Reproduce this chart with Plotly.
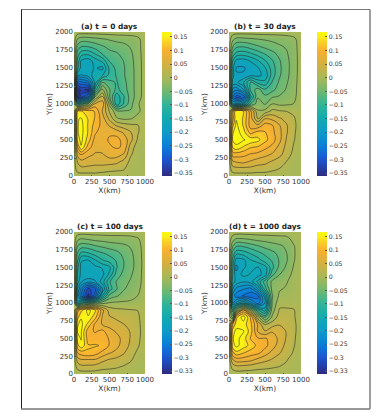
import numpy as np
import plotly.graph_objects as go

x_km = [0, 50, 100, 200, 300, 400, 500, 600, 700, 800, 900, 1000]
y_km = list(range(0, 2001, 100))

# streamfunction-like field, in thousandths, rows from y=0 to y=2000
field_a = [
 [0]*12,
 [0,25,30,30,30,25,20,18,15,0,0,0],
 [0,40,55,50,45,50,50,45,30,5,0,0],
 [0,70,90,70,60,60,75,75,60,15,0,0],
 [0,110,160,100,70,75,85,90,85,22,2,0],
 [0,150,170,125,75,80,90,95,80,45,8,0],
 [0,160,172,135,90,75,85,80,60,40,14,0],
 [0,160,172,135,100,80,60,35,25,18,14,0],
 [0,160,165,135,110,75,30,-10,-18,-15,-3,0],
 [0,140,140,125,110,60,10,-30,-35,-35,-18,0],
 [0,-100,-60,-10,70,80,-20,-130,-85,-45,-15,0],
 [0,-340,-300,-240,-10,40,-60,-130,-90,-50,-24,0],
 [0,-360,-330,-345,-100,-10,-60,-95,-75,-48,-25,0],
 [0,-280,-270,-250,-150,-60,-80,-90,-70,-48,-25,0],
 [0,-180,-190,-175,-150,-140,-105,-85,-65,-48,-25,0],
 [0,-130,-170,-170,-160,-170,-105,-80,-65,-47,-25,0],
 [0,-120,-165,-175,-150,-130,-85,-70,-62,-45,-24,0],
 [0,-100,-125,-130,-110,-85,-70,-65,-55,-42,-22,0],
 [0,-70,-85,-85,-75,-65,-55,-50,-45,-35,-20,0],
 [0,-40,-50,-50,-45,-40,-35,-30,-28,-25,-18,0],
 [0]*12,
]
field_b = [
 [0]*12,
 [0,25,30,30,30,25,25,18,12,5,0,0],
 [0,60,65,70,60,50,45,35,25,12,0,0],
 [0,100,100,95,85,80,70,60,45,25,5,0],
 [0,140,155,135,115,110,95,80,55,30,10,0],
 [0,165,175,165,155,145,120,100,70,35,14,0],
 [0,160,175,150,105,125,115,95,70,40,16,0],
 [0,130,170,135,75,70,100,90,65,40,18,0],
 [0,100,160,135,75,10,60,55,40,30,15,0],
 [0,100,160,140,70,-10,-5,20,15,12,8,0],
 [0,-180,-180,-150,-60,-25,-40,-12,-18,-16,-12,0],
 [0,-260,-300,-280,-120,-40,-55,-40,-35,-28,-18,0],
 [0,-220,-230,-190,-80,-50,-85,-70,-50,-35,-20,0],
 [0,-170,-170,-140,-85,-120,-130,-85,-58,-40,-22,0],
 [0,-150,-185,-185,-170,-170,-155,-100,-66,-44,-24,0],
 [0,-155,-190,-190,-180,-165,-140,-100,-68,-45,-25,0],
 [0,-135,-170,-175,-160,-140,-115,-90,-65,-44,-25,0],
 [0,-95,-120,-125,-115,-100,-85,-70,-55,-40,-24,0],
 [0,-60,-80,-85,-75,-65,-55,-48,-40,-35,-22,0],
 [0,-30,-45,-45,-42,-38,-35,-32,-30,-25,-18,0],
 [0]*12,
]
field_c = [
 [0]*12,
 [0,20,30,30,28,20,18,15,10,5,0,0],
 [0,50,60,60,60,45,35,30,25,15,2,0],
 [0,90,100,110,100,80,65,55,40,22,8,0],
 [0,130,155,115,115,110,85,70,50,32,15,0],
 [0,150,165,100,100,100,85,70,55,35,18,0],
 [0,165,165,95,85,95,70,60,50,35,20,0],
 [0,160,170,130,80,60,55,45,38,30,18,0],
 [0,130,160,160,120,60,40,33,28,24,16,0],
 [0,100,130,172,140,70,25,18,16,14,12,0],
 [0,-150,-80,-60,-40,-20,-10,-8,-8,-8,-6,0],
 [0,-200,-250,-345,-260,-130,-55,-40,-28,-20,-12,0],
 [0,-190,-240,-320,-290,-190,-100,-65,-40,-28,-18,0],
 [0,-150,-185,-205,-190,-150,-90,-60,-45,-35,-23,0],
 [0,-140,-170,-165,-175,-170,-130,-75,-55,-40,-25,0],
 [0,-130,-170,-175,-170,-160,-145,-90,-62,-45,-27,0],
 [0,-110,-160,-165,-140,-115,-100,-85,-62,-45,-27,0],
 [0,-90,-120,-115,-100,-90,-80,-70,-55,-42,-25,0],
 [0,-65,-75,-75,-65,-58,-52,-47,-43,-35,-22,0],
 [0,-30,-40,-35,-30,-28,-25,-25,-24,-22,-15,0],
 [0]*12,
]
field_d = [
 [0]*12,
 [0,20,30,28,25,20,18,15,12,8,2,0],
 [0,60,75,75,70,55,45,35,25,14,3,0],
 [0,105,130,115,100,95,75,55,40,24,10,0],
 [0,150,170,150,130,105,95,75,50,30,14,0],
 [0,160,172,150,110,90,90,80,55,35,16,0],
 [0,150,170,165,125,60,40,60,55,35,18,0],
 [0,110,150,150,120,60,10,25,35,28,18,0],
 [0,-50,130,178,110,0,-70,-8,25,24,15,0],
 [0,-100,-20,90,-20,-110,-150,-25,15,16,14,0],
 [0,-220,-180,-130,-200,-250,-190,-35,5,4,3,0],
 [0,-220,-250,-265,-280,-270,-170,-40,-8,-6,0,0],
 [0,-185,-220,-235,-245,-190,-100,-30,-15,-10,-3,0],
 [0,-150,-170,-185,-175,-130,-75,-30,-20,-14,-3,0],
 [0,-135,-180,-155,-165,-175,-150,-70,-38,-22,-6,0],
 [0,-130,-195,-165,-155,-165,-150,-95,-55,-32,-10,0],
 [0,-120,-175,-170,-140,-125,-100,-85,-60,-40,-14,0],
 [0,-95,-130,-125,-110,-95,-82,-70,-55,-38,-15,0],
 [0,-60,-85,-85,-75,-65,-55,-48,-42,-33,-14,0],
 [0,-25,-40,-40,-35,-30,-28,-25,-23,-20,-5,0],
 [0]*12,
]
titles = ["(a) t = 0 days", "(b) t = 30 days", "(c) t = 100 days", "(d) t = 1000 days"]
fields = [field_a, field_b, field_c, field_d]
bar_bottom = ["−0.35", "−0.35", "−0.33", "−0.33"]
cbar_vals = [0.15, 0.1, 0.05, 0, -0.05, -0.1, -0.15, -0.2, -0.25, -0.3, -0.35]
cbar_text = ["0.15", "0.1", "0.05", "0", "−0.05", "−0.1", "−0.15", "−0.2", "−0.25", "−0.3"]
xticks = [0, 250, 500, 750, 1000]
yticks = [0, 250, 500, 750, 1000, 1250, 1500, 1750, 2000]

colorscale = [
 [0.0, "#2f2a80"], [0.115, "#1a55d0"], [0.21, "#0a7fd8"], [0.304, "#0e9bc8"],
 [0.399, "#10aab0"], [0.493, "#30b498"], [0.588, "#70b870"], [0.682, "#a8b858"],
 [0.777, "#d4b040"], [0.871, "#f8b030"], [0.93, "#f9d025"], [0.966, "#f9ee18"], [1.0, "#f9f910"],
]
W, H = 375, 415
ZMIN, ZMAX = -0.361, 0.168
FONT = "DejaVu Sans"
TXT = "#333333"

# pixel boxes: plot left/right, colorbar left, top/bottom
boxes = [(74, 145, 162, 32, 176), (229, 301, 317, 32, 176),
         (74, 145, 162, 232, 374), (229, 301, 317, 232, 374)]

fig = go.Figure()
layout = {}
for i, (fld, ttl, box) in enumerate(zip(fields, titles, boxes)):
    l, r, cb, t, b = box
    sfx = "" if i == 0 else str(i + 1)
    z = np.array(fld) / 1000.0
    xa, ya = "x" + sfx, "y" + sfx
    fig.add_trace(go.Heatmap(
        x=x_km, y=y_km, z=z, xaxis=xa, yaxis=ya, zsmooth="best",
        colorscale=colorscale, zmin=ZMIN, zmax=ZMAX, hoverinfo="skip",
        colorbar=dict(
            x=cb / W, xanchor="left", xref="paper", y=1 - (t + b) / 2 / H, yanchor="middle", yref="paper",
            len=(b - t) / H, lenmode="fraction", thickness=10, thicknessmode="pixels",
            xpad=0, ypad=0, outlinewidth=0,
            tickmode="array", tickvals=cbar_vals, ticktext=cbar_text + [bar_bottom[i]],
            ticks="inside", ticklen=1.5, tickwidth=0.5, tickcolor="#555555",
            tickfont=dict(family=FONT, size=6.2, color=TXT),
        ),
    ))
    fig.add_trace(go.Contour(
        x=x_km, y=y_km, z=z, xaxis=xa, yaxis=ya, showscale=False, hoverinfo="skip",
        autocontour=False,
        contours=dict(coloring="none", start=-0.3625, end=0.1625, size=0.025),
        line=dict(color="#222222", width=0.55, smoothing=1.0),
    ))
    layout["xaxis" + sfx] = dict(
        domain=[l / W, r / W], anchor=ya, range=[0, 1000], tickmode="array", tickvals=xticks,
        ticks="inside", ticklen=1.5, tickwidth=0.5, tickcolor="#555555", showgrid=False, zeroline=False,
        tickfont=dict(family=FONT, size=7, color=TXT), tickangle=0, automargin=False,
        title=dict(text="X(km)", font=dict(family=FONT, size=7.4, color=TXT), standoff=1),
    )
    layout["yaxis" + sfx] = dict(
        domain=[1 - b / H, 1 - t / H], anchor=xa, range=[0, 2000], tickmode="array", tickvals=yticks,
        ticks="inside", ticklen=1.5, tickwidth=0.5, tickcolor="#555555", showgrid=False, zeroline=False,
        tickfont=dict(family=FONT, size=7, color=TXT), automargin=False,
        title=dict(text="Y(km)", font=dict(family=FONT, size=7.4, color=TXT), standoff=1),
    )

annotations = [
    dict(text="<b>%s</b>" % ttl, x=(box[0] + box[1]) / 2 / W, y=1 - (box[3] - 1) / H,
         xref="paper", yref="paper", xanchor="center", yanchor="bottom", showarrow=False,
         font=dict(family=FONT, size=7.4, color="#222222"), yshift=0,
         borderpad=0, borderwidth=0)
    for ttl, box in zip(titles, boxes)
]
def px_line(x0, y0, x1, y1, color, width):
    return dict(type="line", xref="paper", yref="paper", x0=x0 / W, x1=x1 / W,
                y0=1 - y0 / H, y1=1 - y1 / H, line=dict(color=color, width=width))
shapes = [
    px_line(21, 9.5, 370, 9.5, "#777777", 1),
    px_line(21.5, 9.5, 21.5, 409, "#222222", 1),
    px_line(370, 9.5, 370, 409, "#777777", 1.4),
    px_line(21, 409, 370, 409, "#777777", 1.4),
]
fig.update_layout(width=W, height=H, margin=dict(l=0, r=0, t=0, b=0), paper_bgcolor="white",
                  plot_bgcolor="white", showlegend=False, annotations=annotations, shapes=shapes, **layout)
fig.write_html("out.html", config={"displayModeBar": False},
               post_script="document.body.style.margin='0';document.documentElement.style.overflow='hidden';")
